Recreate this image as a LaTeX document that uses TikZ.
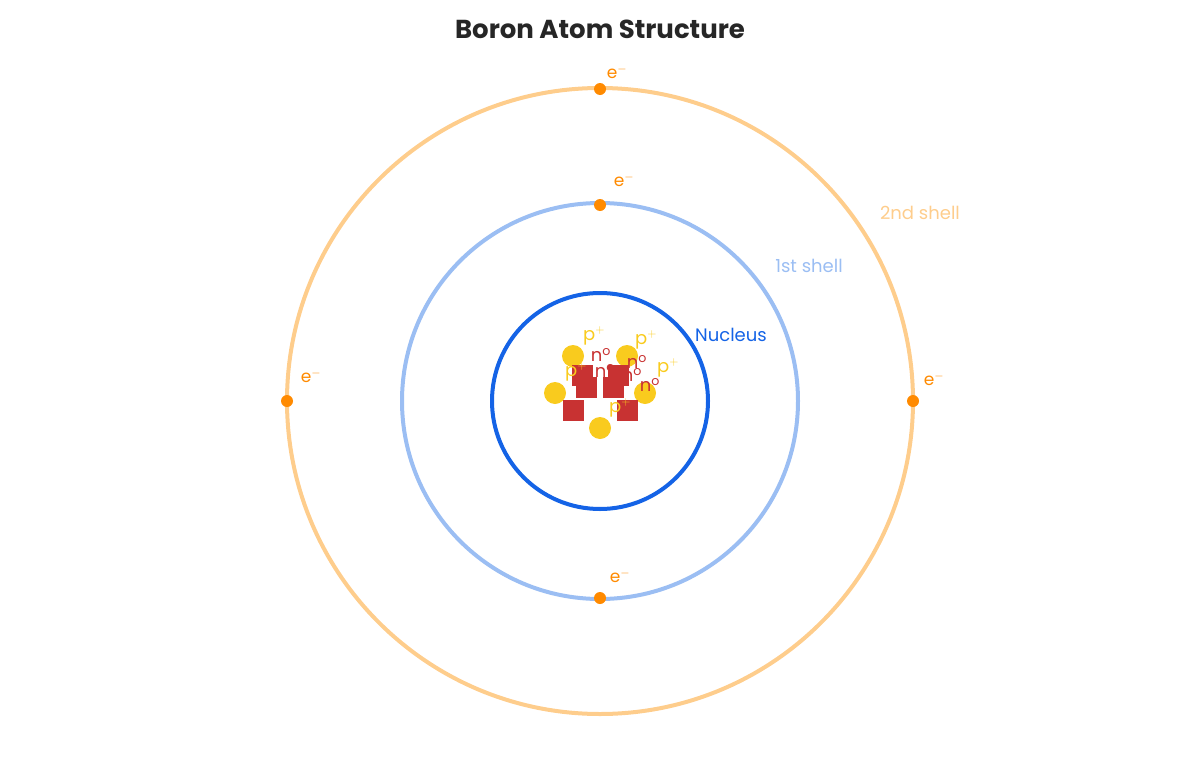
\documentclass[tikz,border=0pt]{standalone}
\usepackage{fontspec}
\setmainfont{Poppins}
\begin{document}
\begin{tikzpicture}[x=1pt,y=-1pt,
  shellA/.style={draw=orangeShell,line width=4pt},
  shellB/.style={draw=blueShell,line width=4pt},
  elec/.style={circle,fill=elecC,inner sep=0pt,minimum size=12pt},
  elab/.style={text=elecC,font=\fontsize{17}{18}\selectfont},
  prot/.style={circle,fill=protC,inner sep=0pt,minimum size=22pt},
  neut/.style={rectangle,fill=neutC,inner sep=0pt,minimum size=21pt},
  plab/.style={text=protC,font=\fontsize{18}{18}\selectfont},
  nlab/.style={text=neutC,font=\fontsize{18}{18}\selectfont}]
\definecolor{orangeShell}{HTML}{FECD8C}
\definecolor{blueShell}{HTML}{9BBEF3}
\definecolor{nucC}{HTML}{1463E6}
\definecolor{elecC}{HTML}{FF8A00}
\definecolor{protC}{HTML}{F9CB1E}
\definecolor{neutC}{HTML}{C83232}
\useasboundingbox (0,0) rectangle (1200,763);
\node[font=\bfseries\fontsize{26}{30}\selectfont,text=black!85] (title) at (600,29) {Boron Atom Structure};
\node[circle,shellA,minimum size=626pt,inner sep=0pt] (s2) at (600,401) {};
\node[circle,shellB,minimum size=396pt,inner sep=0pt] (s1) at (600,401) {};
\node[circle,draw=nucC,line width=4pt,minimum size=216pt,inner sep=0pt] (nuc) at (600,401) {};
\node[text=orangeShell,font=\fontsize{18}{18}\selectfont] (l2) at (920,213) {2nd shell};
\node[text=blueShell,font=\fontsize{18}{18}\selectfont] (l1) at (809,266) {1st shell};
\node[text=nucC,font=\fontsize{18}{18}\selectfont] (ln) at (731,335) {Nucleus};
\node[elec] (e1) at (600,89) {};
\node[elec] (e2) at (600,205) {};
\node[elec] (e3) at (600,598) {};
\node[elec] (e4) at (287,401) {};
\node[elec] (e5) at (913,401) {};
\node[elab] (te1) at (617,72) {e$^{-}$};
\node[elab] (te2) at (624,180) {e$^{-}$};
\node[elab] (te3) at (620,576) {e$^{-}$};
\node[elab] (te4) at (311,376) {e$^{-}$};
\node[elab] (te5) at (934,379) {e$^{-}$};
\node[prot] (p1) at (573,356) {};
\node[prot] (p2) at (627,356) {};
\node[prot] (p3) at (555,393) {};
\node[prot] (p4) at (645,393) {};
\node[prot] (p5) at (600,428) {};
\node[neut] (n1) at (582,375) {};
\node[neut] (n2) at (618,375) {};
\node[neut] (n3) at (586,387) {};
\node[neut] (n4) at (613,387) {};
\node[neut] (n5) at (573,410) {};
\node[neut] (n6) at (627,410) {};
\node[nlab] (tn1) at (601,355) {n$^{\mathrm{o}}$};
\node[nlab] (tn2) at (637,362) {n$^{\mathrm{o}}$};
\node[nlab] (tn3) at (605,371) {n$^{\mathrm{o}}$};
\node[nlab] (tn4) at (632,375) {n$^{\mathrm{o}}$};
\node[nlab] (tn5) at (650,385) {n$^{\mathrm{o}}$};
\node[plab] (tp1) at (594,336) {p$^{+}$};
\node[plab] (tp2) at (646,340) {p$^{+}$};
\node[plab] (tp3) at (576,372) {p$^{+}$};
\node[plab] (tp4) at (668,368) {p$^{+}$};
\node[plab] (tp5) at (620,408) {p$^{+}$};
\end{tikzpicture}
\end{document}
